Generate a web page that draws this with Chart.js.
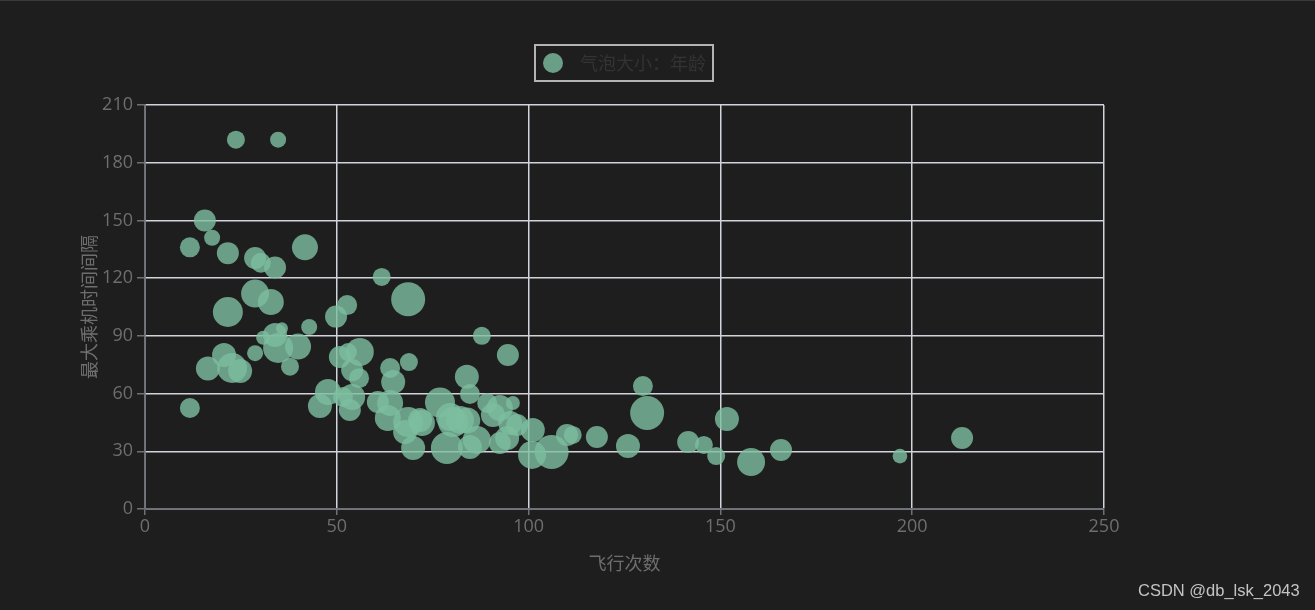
<!DOCTYPE html>
<html>
<head>
<meta charset="utf-8">
<script src="https://cdn.jsdelivr.net/npm/chart.js@4.4.1/dist/chart.umd.min.js"></script>
<style>
  html, body { margin: 0; padding: 0; background: #1e1e1e; }
  #wrap { position: relative; width: 1315px; height: 610px; background: #1e1e1e; }
  #topline { position: absolute; left: 0; top: 0; width: 1315px; height: 1px; background: #3a3a3a; }
  #wm { position: absolute; left: 1138px; top: 581px; font: 16.5px "Liberation Sans", Arial, sans-serif; color: #c4c4c4; white-space: nowrap; }
</style>
</head>
<body>
<div id="wrap">
  <canvas id="c" width="1315" height="610"></canvas>
  <div id="topline"></div>
  <div id="wm">CSDN @db_lsk_2043</div>
</div>
<script>
// ---- data ----
const seriesLabel = '气泡大小：年龄';
const xTitle = '飞行次数';
const yTitle = '最大乘机时间间隔';
const flights = [23.7, 34.7, 15.6, 17.5, 11.7, 21.6, 41.7, 28.7, 30.2, 33.9,
  28.7, 32.8, 21.6, 61.7, 68.6, 52.7, 49.8, 42.8, 35.7, 30.8,
  33.9, 34.7, 39.9, 28.7, 37.8, 20.6, 16.4, 22.7, 24.8, 11.7,
  50.8, 52.9, 56.0, 54.0, 55.8, 63.9, 68.8, 64.7, 47.7, 45.6,
  51.6, 54.0, 53.4, 60.7, 63.9, 63.3, 68.6, 67.8, 72.2, 69.9,
  76.9, 78.7, 79.5, 82.1, 83.9, 87.8, 94.6, 84.7, 89.2, 95.9,
  92.5, 90.7, 95.2, 97.0, 80.3, 84.0, 71.7, 101.1, 86.5, 94.4,
  92.5, 84.7, 100.9, 106.0, 110.0, 111.5, 129.8, 130.9, 117.8, 125.9,
  141.6, 145.7, 148.9, 151.7, 158.0, 165.8, 196.8, 213.0];
const maxInterval = [192, 192, 150, 141, 136, 133, 136, 130.5, 128, 125.5,
  112, 107.6, 102.4, 120.6, 109, 106, 100, 94.6, 94, 89,
  90.4, 83.7, 84.5, 81, 74, 80, 73, 73.3, 71.7, 52.5,
  79, 81.6, 81.6, 72.2, 68, 73.3, 76.4, 66, 60.8, 53.5,
  58.2, 58.2, 51.5, 55.6, 55.1, 47.3, 45.2, 40, 44.7, 31.7,
  55.3, 31.7, 47.8, 46.3, 68.8, 90, 80, 59.8, 55.1, 55.1,
  52.5, 48.9, 44.7, 43.7, 45.2, 46, 46.3, 41.1, 35.9, 36.9,
  34.3, 32.2, 28.1, 29.6, 38.5, 38.5, 63.9, 49.9, 37.4, 32.7,
  34.8, 33.3, 27.5, 46.8, 24.4, 30.7, 27.5, 36.9];
const ages = [27, 24, 33, 24, 30, 33, 39, 33, 30, 33,
  42, 39, 45, 27, 51, 30, 33, 24, 18, 21,
  36, 45, 39, 24, 27, 36, 36, 45, 36, 30,
  33, 27, 42, 33, 30, 30, 27, 36, 39, 36,
  30, 39, 33, 33, 39, 39, 45, 36, 39, 36,
  45, 48, 42, 42, 36, 27, 33, 30, 30, 21,
  39, 36, 36, 33, 45, 39, 36, 36, 42, 36,
  33, 36, 42, 51, 33, 27, 30, 51, 33, 36,
  33, 27, 27, 36, 42, 33, 22, 33];
const xTicks = [0, 50, 100, 150, 200, 250];
const yTicks = [0, 30, 60, 90, 120, 150, 180, 210];

// ---- styling ----
const bubbleColor = 'rgba(125,190,160,0.8)';
const gridColor = '#d2d4dc';
const axisColor = '#6e7079';
const tickColor = '#6e6e6e';
const cjkFamily = '"Noto Sans CJK SC", "Noto Sans", sans-serif';
const numFamily = '"Open Sans", "Noto Sans CJK SC", sans-serif';

const points = flights.map((x, i) => ({ x: x, y: maxInterval[i], r: ages[i] / 3 }));

const legendPlugin = {
  id: 'boxLegend',
  afterDraw(chart) {
    const ctx = chart.ctx;
    const ds = chart.data.datasets[0];
    ctx.save();
    ctx.strokeStyle = '#b4b4b4';
    ctx.lineWidth = 2;
    ctx.strokeRect(535, 45, 178, 36);
    ctx.fillStyle = ds.backgroundColor;
    ctx.beginPath();
    ctx.arc(553, 63, 10, 0, Math.PI * 2);
    ctx.fill();
    ctx.fillStyle = '#333333';
    ctx.font = '18px ' + cjkFamily;
    ctx.textBaseline = 'middle';
    ctx.textAlign = 'left';
    ctx.fillText(ds.label, 580, 63);
    ctx.restore();
  }
};

new Chart(document.getElementById('c'), {
  type: 'bubble',
  data: {
    datasets: [{
      label: seriesLabel,
      data: points,
      backgroundColor: bubbleColor,
      borderWidth: 0,
      hoverBorderWidth: 0
    }]
  },
  options: {
    responsive: false,
    animation: false,
    events: [],
    layout: { padding: { top: 105, left: 0, right: 211, bottom: 0 } },
    plugins: {
      legend: { display: false },
      tooltip: { enabled: false }
    },
    scales: {
      x: {
        type: 'linear',
        min: 0, max: 250,
        afterBuildTicks: (s) => { s.ticks = xTicks.map(v => ({ value: v })); },
        afterFit: (s) => { s.height = 101; },
        grid: { color: gridColor, lineWidth: 1.5, tickColor: axisColor, tickLength: 6, drawTicks: true },
        border: { color: axisColor, width: 1.5 },
        ticks: { color: tickColor, font: { size: 18, family: numFamily }, padding: 1 },
        title: { display: true, text: xTitle, color: tickColor, font: { size: 18, family: cjkFamily }, padding: { top: 0, bottom: 36 } }
      },
      y: {
        type: 'linear',
        min: 0, max: 210,
        afterBuildTicks: (s) => { s.ticks = yTicks.map(v => ({ value: v })); },
        afterFit: (s) => { s.width = 145; },
        grid: { color: gridColor, lineWidth: 1.5, tickColor: axisColor, tickLength: 8, drawTicks: true },
        border: { color: axisColor, width: 1.5 },
        ticks: { color: tickColor, font: { size: 18, family: numFamily }, padding: 4 },
        title: { display: true, text: yTitle, color: tickColor, font: { size: 18, family: cjkFamily }, padding: { top: 78, bottom: 0 } }
      }
    }
  },
  plugins: [legendPlugin]
});
</script>
</body>
</html>
